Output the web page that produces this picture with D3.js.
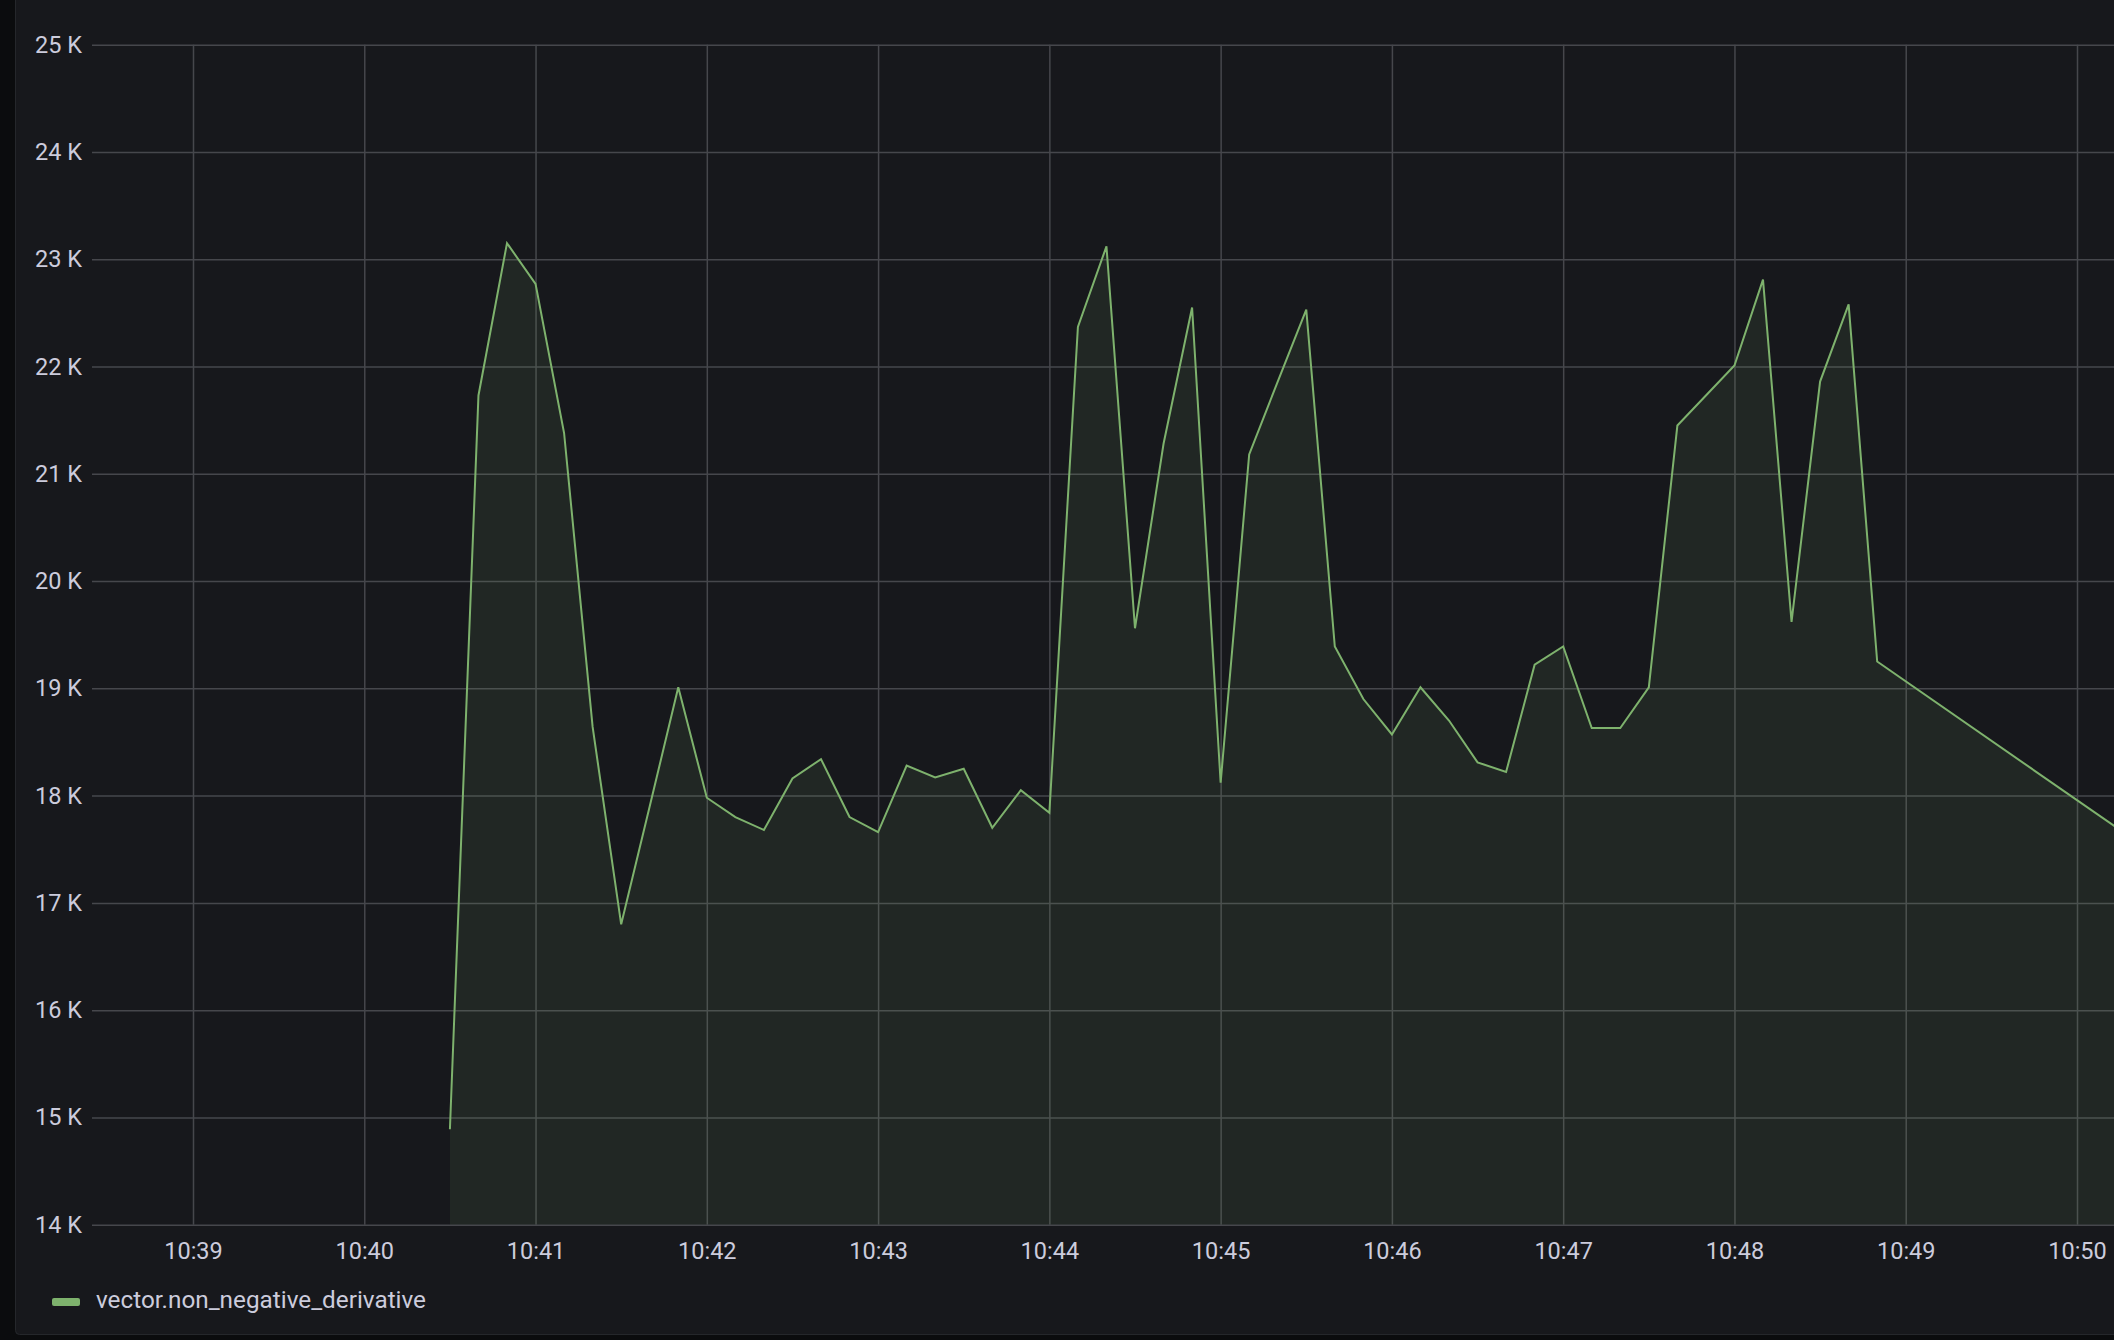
<!DOCTYPE html>
<html>
<head>
<meta charset="utf-8">
<script src="https://cdn.jsdelivr.net/npm/d3@7"></script>
<style>
  html, body { margin: 0; padding: 0; background: #0b0c0e; overflow: hidden; }
  text { font-family: Roboto, Inter, "Noto Sans", sans-serif; }
</style>
</head>
<body>
<script>
// ----- Data -----
const seriesName = "vector.non_negative_derivative";

const times = [
    "10:40:30","10:40:40","10:40:50","10:41:00","10:41:10","10:41:20","10:41:30","10:41:40","10:41:50",
    "10:42:00","10:42:10","10:42:20","10:42:30","10:42:40","10:42:50",
    "10:43:00","10:43:10","10:43:20","10:43:30","10:43:40","10:43:50",
    "10:44:00","10:44:10","10:44:20","10:44:30","10:44:40","10:44:50",
    "10:45:00","10:45:10","10:45:20","10:45:30","10:45:40","10:45:50",
    "10:46:00","10:46:10","10:46:20","10:46:30","10:46:40","10:46:50",
    "10:47:00","10:47:10","10:47:20","10:47:30","10:47:40","10:47:50",
    "10:48:00","10:48:10","10:48:20","10:48:30","10:48:40","10:48:50",
    "10:51:00"
];

const values = [
    14890, 21730, 23150, 22770, 21380, 18640, 16800, 17900, 19010,
    17980, 17800, 17680, 18160, 18340, 17800,
    17660, 18280, 18170, 18250, 17700, 18050,
    17840, 22370, 23120, 19560, 21280, 22550,
    18120, 21180, 21860, 22530, 19390, 18900,
    18570, 19010, 18700, 18310, 18220, 19220,
    19390, 18630, 18630, 19010, 21450, 21730,
    22010, 22810, 19620, 21860, 22580, 19250,
    16850
];

const yTicks = [14000, 15000, 16000, 17000, 18000, 19000, 20000, 21000, 22000, 23000, 24000, 25000];
const timeTicks = ["10:39:00", "10:50:00"];

// ----- Layout -----
const width = 2114, height = 1340;
const plotLeft = 92, plotRight = 2114, plotTop = 44.7, plotBottom = 1224.7;
const lineColor = "#7eb26d";
const gridColor = "#46474c";
const textColor = "#ccccdc";
const fontSize = "23.5px";

const parseTime = d3.timeParse("%H:%M:%S");
const data = times.map((t, i) => ({ time: parseTime(t), value: values[i] }));

// 10:39 and 10:50 gridlines sit at these pixels; the plot runs past them on both sides
const x = d3.scaleTime()
    .domain(timeTicks.map(parseTime))
    .range([193, 2077]);

const y = d3.scaleLinear()
    .domain([14000, 25000])
    .range([plotBottom, plotTop]);

const svg = d3.select("body")
    .append("svg")
    .attr("width", width)
    .attr("height", height);

// Panel background
svg.append("rect")
    .attr("x", 15.5)
    .attr("y", -10)
    .attr("width", width + 20)
    .attr("height", 1344.5)
    .attr("rx", 4)
    .attr("fill", "#17181c")
    .attr("stroke", "#25272b")
    .attr("stroke-width", 1);

svg.append("clipPath")
    .attr("id", "plotClip")
    .append("rect")
    .attr("x", plotLeft)
    .attr("y", plotTop - 5)
    .attr("width", plotRight - plotLeft)
    .attr("height", plotBottom - plotTop + 5);

// Horizontal grid + y labels
const yAxis = svg.append("g")
    .attr("transform", "translate(" + plotLeft + ",0)")
    .call(d3.axisLeft(y)
        .tickValues(yTicks)
        .tickSize(-(plotRight - plotLeft))
        .tickPadding(10)
        .tickFormat(d => (d / 1000) + " K"));

yAxis.select(".domain").remove();
yAxis.selectAll("line")
    .attr("stroke", gridColor)
    .attr("stroke-width", 1.5);
yAxis.selectAll("text")
    .attr("fill", textColor)
    .style("font-size", fontSize);

// Vertical grid + time labels
const xAxis = svg.append("g")
    .attr("transform", "translate(0," + plotBottom + ")")
    .call(d3.axisBottom(x)
        .ticks(d3.timeMinute.every(1))
        .tickSize(-(plotBottom - plotTop))
        .tickPadding(18)
        .tickFormat(d3.timeFormat("%H:%M")));

xAxis.select(".domain").remove();
xAxis.selectAll("line")
    .attr("stroke", gridColor)
    .attr("stroke-width", 1.5);
xAxis.selectAll("text")
    .attr("fill", textColor)
    .style("font-size", fontSize);

// Area and line
const plot = svg.append("g").attr("clip-path", "url(#plotClip)");

plot.append("path")
    .datum(data)
    .attr("fill", lineColor)
    .attr("fill-opacity", 0.1)
    .attr("d", d3.area()
        .x(d => x(d.time))
        .y0(plotBottom)
        .y1(d => y(d.value)));

plot.append("path")
    .datum(data)
    .attr("fill", "none")
    .attr("stroke", lineColor)
    .attr("stroke-width", 2)
    .attr("stroke-linejoin", "miter")
    .attr("d", d3.line()
        .x(d => x(d.time))
        .y(d => y(d.value)));

// Legend
svg.append("rect")
    .attr("x", 52)
    .attr("y", 1298)
    .attr("width", 28)
    .attr("height", 8)
    .attr("rx", 2)
    .attr("fill", lineColor);

svg.append("text")
    .attr("x", 96)
    .attr("y", 1308)
    .attr("fill", textColor)
    .style("font-size", "24.3px")
    .text(seriesName);
</script>
</body>
</html>
